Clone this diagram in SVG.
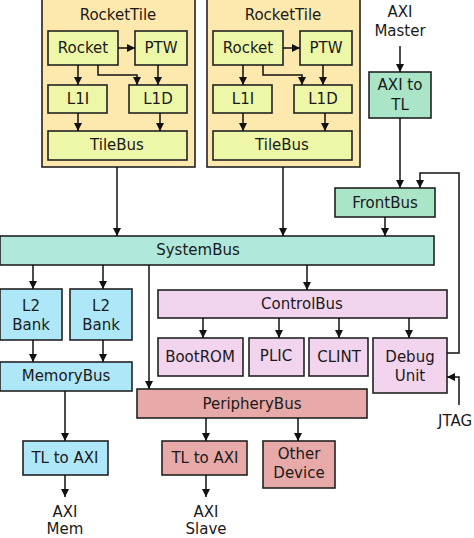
<svg xmlns="http://www.w3.org/2000/svg" width="474" height="538" viewBox="0 0 474 538">
<defs>
<style>
.b{stroke:#222;stroke-width:1.6}
.tile{fill:#fde8ae}
.in{fill:#eef7a8}
.gr{fill:#aae5c8}
.sb{fill:#b0e8dc}
.cy{fill:#aee8f8}
.pk{fill:#f3d4ee}
.rd{fill:#e8aaa8}
text{font-family:"DejaVu Sans","Liberation Sans",sans-serif;font-size:15px;fill:#1a1a1a;text-anchor:middle;dominant-baseline:central}
.c{fill:none;stroke:#111;stroke-width:1.5;marker-end:url(#ah)}
</style>
<marker id="ah" markerUnits="userSpaceOnUse" markerWidth="10" markerHeight="10" refX="8" refY="4" orient="auto">
<path d="M0,0 L8,4 L0,8 z" fill="#111"/>
</marker>
</defs>
<g id="tile1">
<rect class="b tile" x="42" y="-1" width="153" height="168"/>
<text x="118" y="15">RocketTile</text>
<g id="rocket1"><rect class="b in" x="48" y="31" width="70" height="34"/><text x="83" y="48">Rocket</text></g>
<g id="ptw1"><rect class="b in" x="135" y="31" width="52" height="34"/><text x="161" y="48">PTW</text></g>
<g id="l1i1"><rect class="b in" x="48" y="85" width="59" height="28"/><text x="78" y="99">L1I</text></g>
<g id="l1d1"><rect class="b in" x="129" y="85" width="58" height="28"/><text x="158" y="99">L1D</text></g>
<g id="tilebus1"><rect class="b in" x="48" y="131" width="139" height="29"/><text x="117" y="145">TileBus</text></g>
</g>
<g id="tile2">
<rect class="b tile" x="207" y="-1" width="153" height="168"/>
<text x="283" y="15">RocketTile</text>
<g id="rocket2"><rect class="b in" x="213" y="31" width="70" height="34"/><text x="248" y="48">Rocket</text></g>
<g id="ptw2"><rect class="b in" x="300" y="31" width="52" height="34"/><text x="326" y="48">PTW</text></g>
<g id="l1i2"><rect class="b in" x="213" y="85" width="59" height="28"/><text x="243" y="99">L1I</text></g>
<g id="l1d2"><rect class="b in" x="294" y="85" width="58" height="28"/><text x="323" y="99">L1D</text></g>
<g id="tilebus2"><rect class="b in" x="213" y="131" width="139" height="29"/><text x="282" y="145">TileBus</text></g>
</g>
<g id="axi-master"><text x="400" y="12">AXI</text><text x="400" y="31">Master</text></g>
<g id="axi2tl"><rect class="b gr" x="369" y="72" width="62" height="46"/><text x="400" y="85">AXI to</text><text x="400" y="105">TL</text></g>
<g id="frontbus"><rect class="b gr" x="335" y="188" width="100" height="29"/><text x="385" y="203">FrontBus</text></g>
<g id="systembus"><rect class="b sb" x="0" y="236" width="434" height="29"/><text x="198" y="250">SystemBus</text></g>
<g id="l2bank1"><rect class="b cy" x="0" y="289" width="62" height="51"/><text x="31" y="306">L2</text><text x="31" y="325">Bank</text></g>
<g id="l2bank2"><rect class="b cy" x="70" y="289" width="62" height="51"/><text x="101" y="306">L2</text><text x="101" y="325">Bank</text></g>
<g id="memorybus"><rect class="b cy" x="0" y="362" width="132" height="29"/><text x="66" y="376">MemoryBus</text></g>
<g id="tl2axi-mem"><rect class="b cy" x="23" y="441" width="85" height="34"/><text x="65" y="458">TL to AXI</text></g>
<g id="axi-mem"><text x="65" y="512">AXI</text><text x="65" y="529">Mem</text></g>
<g id="controlbus"><rect class="b pk" x="158" y="290" width="289" height="28"/><text x="302" y="304">ControlBus</text></g>
<g id="bootrom"><rect class="b pk" x="158" y="338" width="85" height="38"/><text x="200" y="357">BootROM</text></g>
<g id="plic"><rect class="b pk" x="249" y="338" width="55" height="38"/><text x="276" y="356">PLIC</text></g>
<g id="clint"><rect class="b pk" x="309" y="338" width="59" height="38"/><text x="339" y="357">CLINT</text></g>
<g id="debug"><rect class="b pk" x="373" y="338" width="74" height="55"/><text x="410" y="357">Debug</text><text x="410" y="376">Unit</text></g>
<g id="jtag"><text x="455" y="421">JTAG</text></g>
<g id="peripherybus"><rect class="b rd" x="137" y="389" width="230" height="29"/><text x="252" y="404">PeripheryBus</text></g>
<g id="tl2axi-slave"><rect class="b rd" x="162" y="441" width="85" height="34"/><text x="205" y="458">TL to AXI</text></g>
<g id="other"><rect class="b rd" x="263" y="441" width="72" height="47"/><text x="299" y="454">Other</text><text x="299" y="473">Device</text></g>
<g id="axi-slave"><text x="206" y="512">AXI</text><text x="206" y="529">Slave</text></g>
<g id="connectors">
<path class="c" d="M118,48 H135"/>
<path class="c" d="M78,65 V85"/>
<path class="c" d="M98,65 V75 H137 V85"/>
<path class="c" d="M158,65 V85"/>
<path class="c" d="M78,113 V131"/>
<path class="c" d="M160,113 V131"/>
<path class="c" d="M283,48 H300"/>
<path class="c" d="M243,65 V85"/>
<path class="c" d="M263,65 V75 H302 V85"/>
<path class="c" d="M323,65 V85"/>
<path class="c" d="M243,113 V131"/>
<path class="c" d="M325,113 V131"/>
<path class="c" d="M117,167 V236"/>
<path class="c" d="M283,167 V236"/>
<path class="c" d="M400,46 V72"/>
<path class="c" d="M400,118 V188"/>
<path class="c" d="M447,353 H459 V173 H420 V188"/>
<path class="c" d="M385,217 V236"/>
<path class="c" d="M33,265 V289"/>
<path class="c" d="M103,265 V289"/>
<path class="c" d="M33,340 V362"/>
<path class="c" d="M103,340 V362"/>
<path class="c" d="M149,265 V389"/>
<path class="c" d="M307,265 V290"/>
<path class="c" d="M203,318 V338"/>
<path class="c" d="M279,318 V338"/>
<path class="c" d="M339,318 V338"/>
<path class="c" d="M409,318 V338"/>
<path class="c" d="M459,405 V377 H447"/>
<path class="c" d="M65,391 V441"/>
<path class="c" d="M65,475 V497"/>
<path class="c" d="M206,418 V441"/>
<path class="c" d="M298,418 V441"/>
<path class="c" d="M206,475 V497"/>
</g>
</svg>
